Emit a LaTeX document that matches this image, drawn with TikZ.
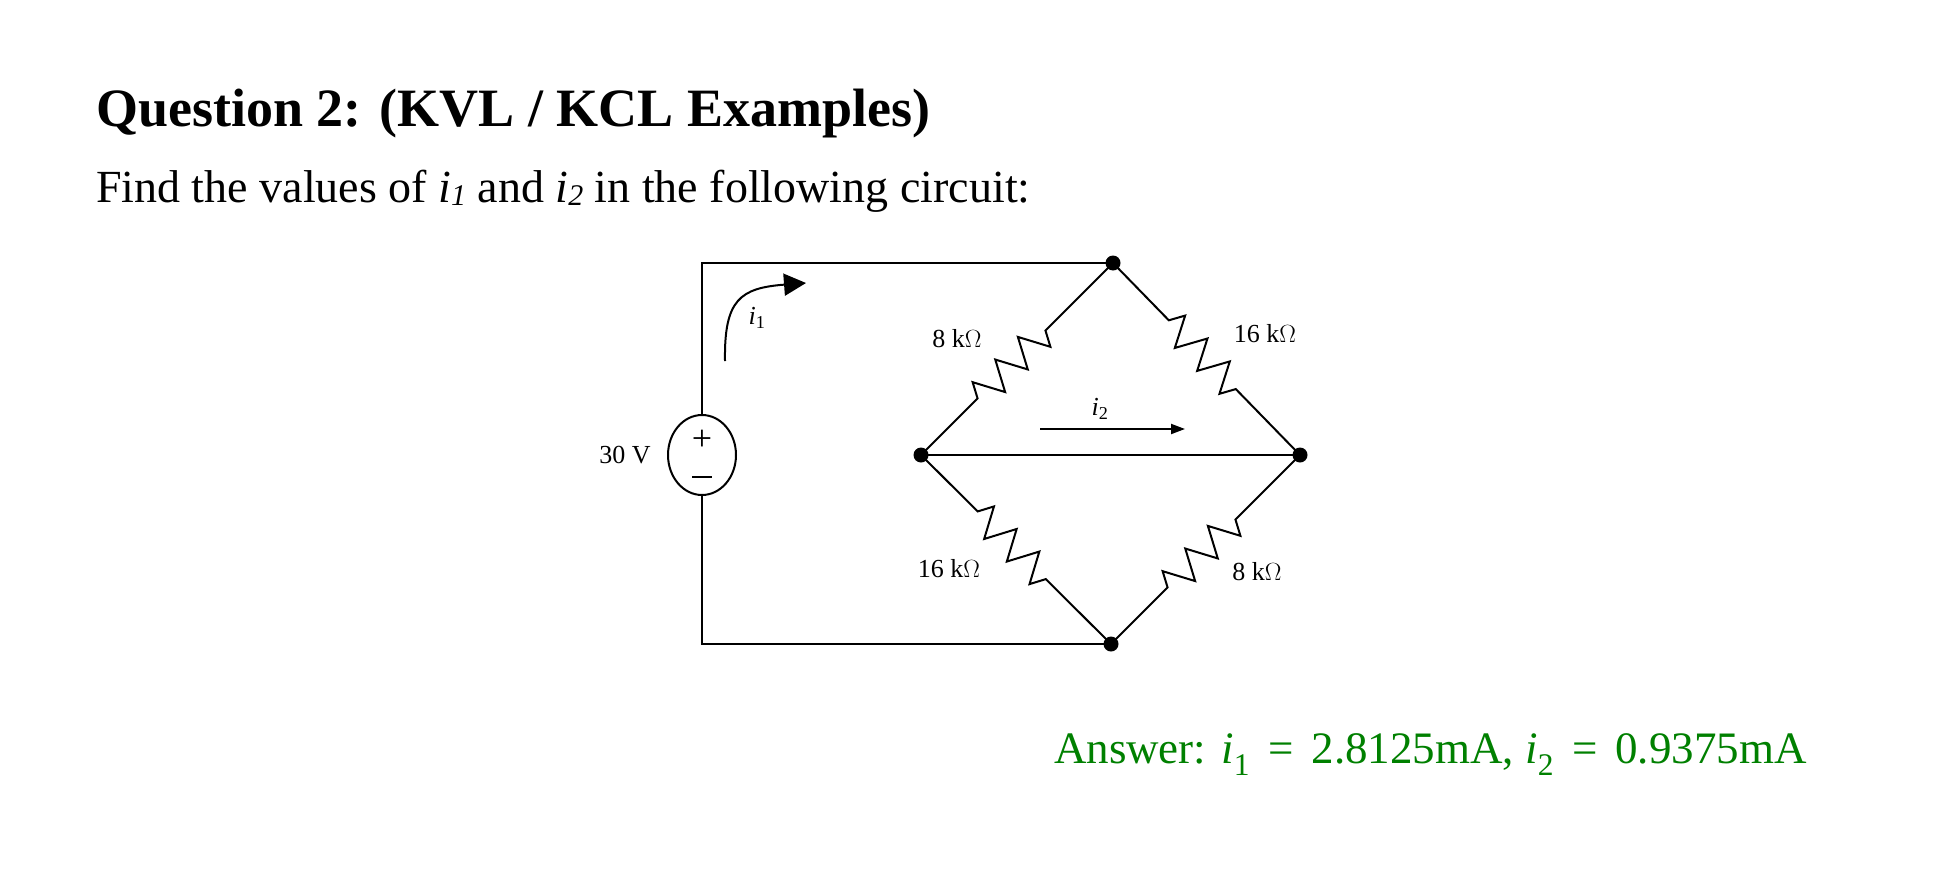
\documentclass[tikz,border=0pt]{standalone}
\usepackage{fontspec}
\setmainfont{Liberation Serif}
\usetikzlibrary{decorations.pathmorphing,arrows.meta,shapes.geometric}
\definecolor{ansgreen}{RGB}{0,128,0}
\newcommand{\eqsp}{\hspace{18pt}=\hspace{18pt}}
\begin{document}
\begin{tikzpicture}[x=1pt,y=-1pt,line width=2pt,
  dot/.style={circle,fill=black,inner sep=0pt,minimum size=15pt},
  lbl/.style={font=\fontsize{26}{30}\selectfont,inner sep=0pt},
  res/.style={decorate,decoration={zigzag,segment length=32pt,amplitude=15pt,pre length=80pt,post length=80pt}}]
\useasboundingbox (0,0) rectangle (1954,870);
\fill[white] (0,0) rectangle (1954,870);
\node[anchor=base west,inner sep=0pt,font=\fontsize{54}{60}\selectfont\bfseries] (title) at (95,126) {Question 2: (KVL / KCL Examples)};
\node[anchor=base west,inner sep=0pt,font=\fontsize{46}{52}\selectfont] (q) at (95,202) {Find the values of \textit{i}{\fontsize{30}{30}\selectfont\raisebox{-3pt}{\textit{1}}} and \textit{i}{\fontsize{30}{30}\selectfont\raisebox{-3pt}{\textit{2}}} in the following circuit:};
\coordinate (tl) at (702,263);
\coordinate (bl) at (702,644);
\node[dot] (T) at (1113,263) {};
\node[dot] (B) at (1111,644) {};
\node[dot] (L) at (921,455) {};
\node[dot] (R) at (1300,455) {};
\node[draw,ellipse,minimum width=68pt,minimum height=80pt,inner sep=0pt] (S) at (702,455) {};
\draw (S.north) -- (tl) -- (T.center);
\draw (S.south) -- (bl) -- (B.center);
\draw (L.center) -- (R.center);
\draw[res] (L.center) -- (T.center);
\draw[res] (T.center) -- (R.center);
\draw[res] (L.center) -- (B.center);
\draw[res] (B.center) -- (R.center);
\node[font=\fontsize{36}{36}\selectfont,inner sep=0pt] (plus) at (702,440) {+};
\draw (692,477) -- (712,477);
\node[lbl] (v) at (625,455) {30 V};
\node[lbl] (r1) at (957,339) {8 k$\Omega$};
\node[lbl] (r2) at (1265,334) {16 k$\Omega$};
\node[lbl] (r3) at (949,569) {16 k$\Omega$};
\node[lbl] (r4) at (1257,572) {8 k$\Omega$};
\node[lbl] (i1) at (757,318) {\textit{i}\textsubscript{1}};
\node[lbl] (i2) at (1100,409) {\textit{i}\textsubscript{2}};
\coordinate (a1) at (725,361);
\coordinate (a2) at (806,283);
\draw[-{Triangle[length=22pt,width=22pt]}] (a1) .. controls (724,300) and (740,288) .. (a2);
\coordinate (b1) at (1040,429);
\coordinate (b2) at (1185,429);
\draw[-{Triangle[length=14pt,width=10pt]}] (b1) -- (b2);
\node[anchor=base west,inner sep=0pt,text=ansgreen,font=\fontsize{45}{50}\selectfont] (ans) at (1053,763) {Answer: \textit{i}\textsubscript{1}\eqsp 2.8125mA, \textit{i}\textsubscript{2}\eqsp 0.9375mA};
\end{tikzpicture}
\end{document}
